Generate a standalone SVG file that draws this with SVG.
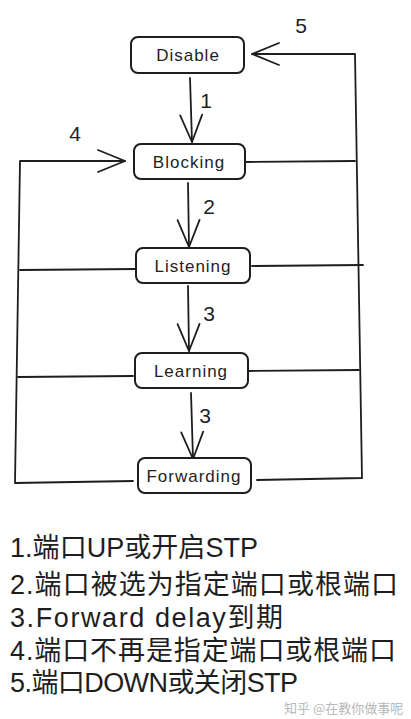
<svg xmlns="http://www.w3.org/2000/svg" width="411" height="719" viewBox="0 0 411 719">
<style>
.box{fill:#fff;stroke:#1e1e1e;stroke-width:2}
.lbl{font-family:"Liberation Sans","DejaVu Sans",sans-serif;font-size:17px;fill:#1e1e1e;text-anchor:middle;dominant-baseline:central;letter-spacing:1px}
.ln{fill:none;stroke:#1e1e1e;stroke-width:1.8;stroke-linecap:round;stroke-linejoin:round}
.num{font-family:"Liberation Sans","DejaVu Sans",sans-serif;font-size:21px;fill:#1e1e1e;dominant-baseline:central;text-anchor:middle}
.leg{font-family:"Liberation Sans","Noto Sans CJK SC",sans-serif;font-size:27px;fill:#1e1e1e}
.wm{font-family:"Noto Sans CJK SC",sans-serif;font-size:13px;fill:#b8b8b8}
</style>
<defs>
<marker id="ah" markerUnits="userSpaceOnUse" markerWidth="40" markerHeight="30" viewBox="-32 -15 40 30" refX="0" refY="0" orient="auto">
<path d="M-27,-11 L0,0 L-27,11" fill="none" stroke="#1e1e1e" stroke-width="1.8" stroke-linecap="round" stroke-linejoin="round"/>
</marker>
</defs>
<rect width="411" height="719" fill="#fff"/>
<g id="connectors">
<path class="ln" d="M190,78 L192,142" marker-end="url(#ah)"/>
<path class="ln" d="M188,183 L189,247" marker-end="url(#ah)"/>
<path class="ln" d="M188,286 L189,351" marker-end="url(#ah)"/>
<path class="ln" d="M191,393 L193,459" marker-end="url(#ah)"/>
<path class="ln" d="M246,162 L355,161"/>
<path class="ln" d="M252,266 L363,265"/>
<path class="ln" d="M249,371 L359,370"/>
<path class="ln" d="M257,480 L362,478 L355,54 L252,54" marker-end="url(#ah)"/>
<path class="ln" d="M136,269 L20,270"/>
<path class="ln" d="M133,376 L18,377"/>
<path class="ln" d="M133,481 L15,483 L20,161 L125,161" marker-end="url(#ah)"/>
<text class="num" x="206" y="100">1</text>
<text class="num" x="209" y="206">2</text>
<text class="num" x="209" y="313">3</text>
<text class="num" x="205" y="415">3</text>
<text class="num" x="75" y="133">4</text>
<text class="num" x="301" y="25">5</text>
</g>
<g id="disable"><rect class="box" x="131" y="37" width="113" height="36" rx="7"/><text class="lbl" x="188" y="55">Disable</text></g>
<g id="blocking"><rect class="box" x="134" y="144" width="111" height="35" rx="7"/><text class="lbl" x="189" y="162">Blocking</text></g>
<g id="listening"><rect class="box" x="136" y="248" width="114" height="35" rx="7"/><text class="lbl" x="193" y="266">Listening</text></g>
<g id="learning"><rect class="box" x="135" y="353" width="113" height="35" rx="7"/><text class="lbl" x="191" y="371">Learning</text></g>
<g id="forwarding"><rect class="box" x="138" y="458" width="113" height="35" rx="7"/><text class="lbl" x="194" y="476">Forwarding</text></g>
<g id="legend">
<text class="leg" x="10" y="557" textLength="248" lengthAdjust="spacing">1.端口UP或开启STP</text>
<text class="leg" x="10" y="594" textLength="388" lengthAdjust="spacing">2.端口被选为指定端口或根端口</text>
<text class="leg" x="10" y="627" textLength="273" lengthAdjust="spacing">3.Forward delay到期</text>
<text class="leg" x="10" y="660" textLength="386" lengthAdjust="spacing">4.端口不再是指定端口或根端口</text>
<text class="leg" x="10" y="692" textLength="288" lengthAdjust="spacing">5.端口DOWN或关闭STP</text>
<text class="wm" x="284" y="713">知乎 @在教你做事呢</text>
</g>
</svg>
